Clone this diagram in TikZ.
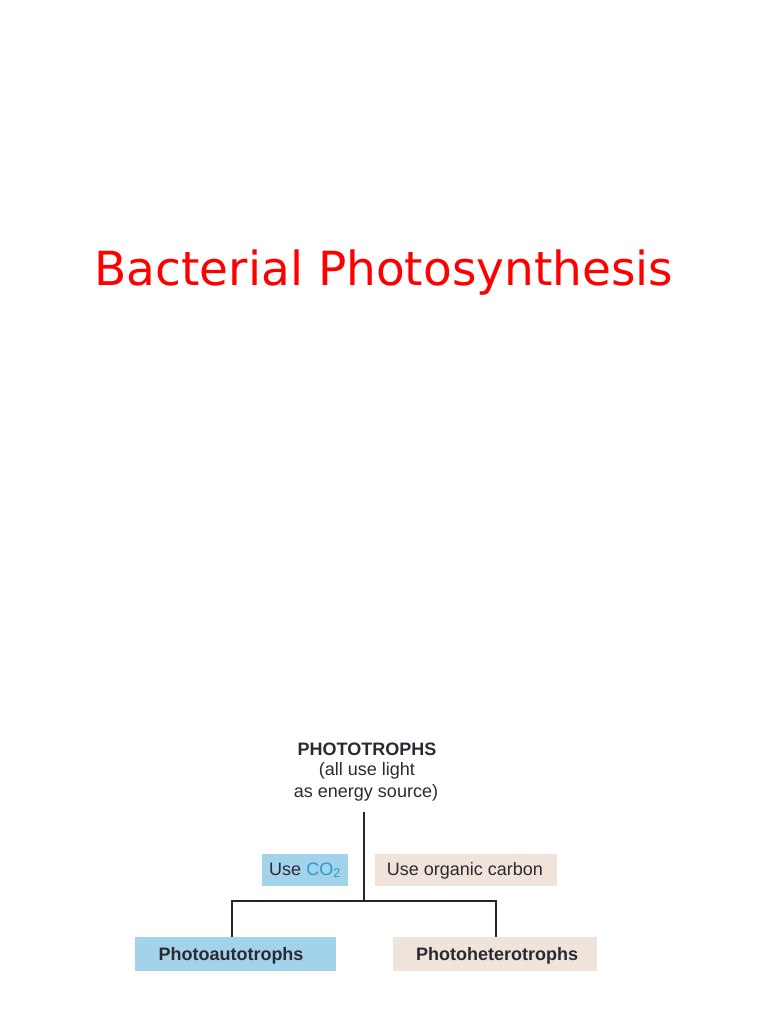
\documentclass[tikz,border=0pt]{standalone}
\usepackage{fontspec}
\setmainfont{Liberation Sans}
\newfontfamily\titlefont{DejaVu Sans}
\definecolor{bluebox}{HTML}{A3D3EA}
\definecolor{beigebox}{HTML}{F0E3D9}
\definecolor{co2}{HTML}{2A9AD0}
\definecolor{txt}{HTML}{2A2A33}
\begin{document}
\begin{tikzpicture}[x=1pt,y=-1pt,
  lbl/.style={inner sep=0pt, font=\fontsize{18}{20}\selectfont, text=txt},
  lblb/.style={inner sep=0pt, font=\bfseries\fontsize{18}{20}\selectfont, text=txt},
  boxb/.style={fill=bluebox, inner sep=0pt},
  boxe/.style={fill=beigebox, inner sep=0pt},
  conn/.style={line width=1.3pt, black!85}]
\useasboundingbox (0,0) rectangle (768,1024);
\node[text=red, font=\titlefont\fontsize{47}{54}\selectfont, anchor=base] (title) at (384,285) {Bacterial Photosynthesis};
\node[lblb, anchor=base] (top) at (367,755) {PHOTOTROPHS};
\node[lbl, anchor=base] (l2) at (367,775) {(all use light};
\node[lbl, anchor=base] (l3) at (366,797) {as energy source)};
\coordinate (vtop) at (364,812);
\coordinate (junc) at (364,901);
\coordinate (jl) at (232,901);
\coordinate (jr) at (496,901);
\node[boxb, minimum width=86pt, minimum height=32pt] (co) at (305,870) {};
\node[lbl, anchor=base] at (305,875) {Use \textcolor{co2}{CO\textsubscript{2}}};
\node[boxe, minimum width=182pt, minimum height=32pt] (org) at (466,870) {};
\node[lbl, anchor=base] at (465,875) {Use organic carbon};
\node[boxb, minimum width=201pt, minimum height=34pt, anchor=north west] (pa) at (135,937) {};
\node[lblb, anchor=base] at (231,960) {Photoautotrophs};
\node[boxe, minimum width=204pt, minimum height=34pt, anchor=north west] (ph) at (393,937) {};
\node[lblb, anchor=base] at (497,960) {Photoheterotrophs};
\draw[conn] (vtop) -- (junc);
\draw[conn] (pa.north -| jl) -- (jl) -- (jr) -- (ph.north -| jr);
\end{tikzpicture}
\end{document}
